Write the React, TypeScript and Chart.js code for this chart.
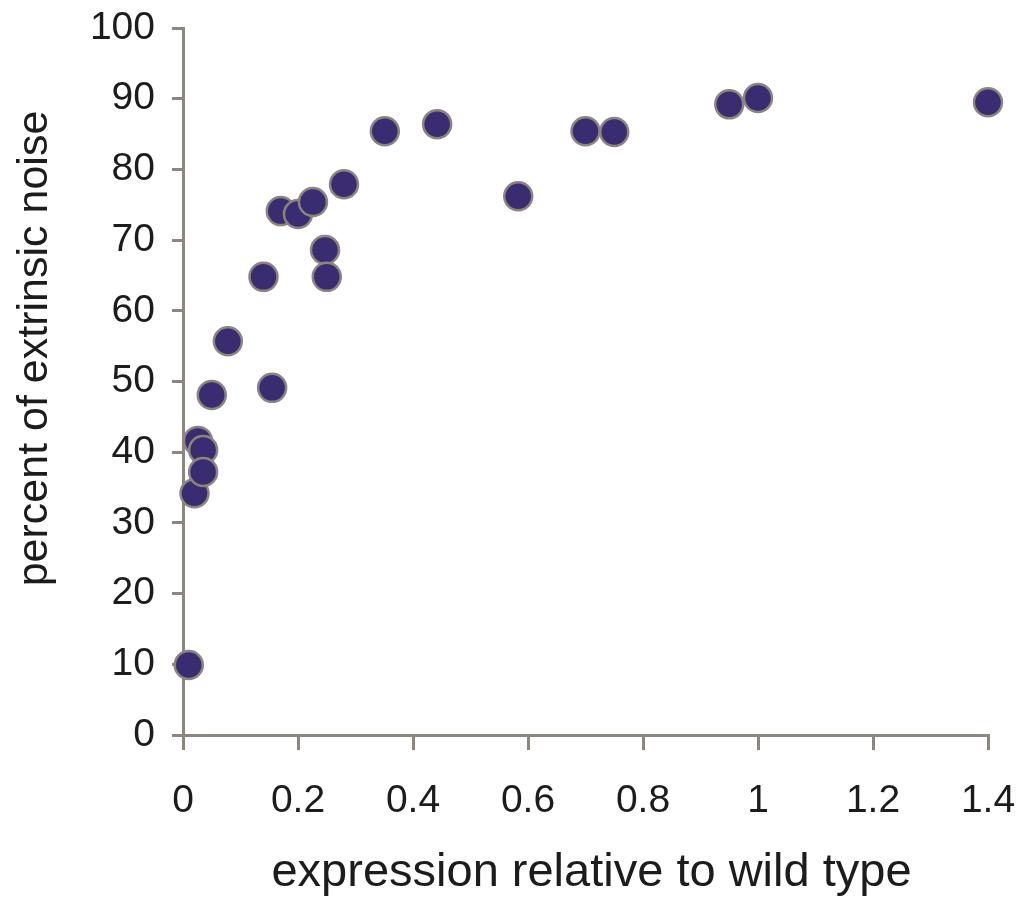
import React, { useEffect, useRef } from "react";
import { Chart, registerables } from "chart.js";

Chart.register(...registerables);

// Data
const expression = [
  0.01, 0.02, 0.026, 0.035, 0.035, 0.05, 0.078, 0.155, 0.14, 0.17, 0.2, 0.226,
  0.247, 0.25, 0.28, 0.351, 0.442, 0.583, 0.7, 0.75, 0.95, 1.0, 1.4,
];
const extrinsicNoise = [
  9.9, 34.2, 41.6, 40.3, 37.2, 48.1, 55.7, 49.1, 64.8, 74.1, 73.7, 75.4,
  68.6, 64.8, 77.9, 85.4, 86.4, 76.2, 85.4, 85.3, 89.2, 90.1, 89.5,
];
const xTicks = [0, 0.2, 0.4, 0.6, 0.8, 1, 1.2, 1.4];
const yTicks = [0, 10, 20, 30, 40, 50, 60, 70, 80, 90, 100];
const xTitle = "expression relative to wild type";
const yTitle = "percent of extrinsic noise";

const FONT = '"Liberation Sans", Arial, Helvetica, sans-serif';
const AXIS = "#8c8681";
const TEXT = "#1c1c1c";

const titlePlugin = {
  id: "axisTitles",
  afterDraw(chart: any) {
    const { ctx, chartArea } = chart;
    ctx.save();
    ctx.fillStyle = TEXT;
    ctx.textAlign = "center";
    ctx.textBaseline = "alphabetic";
    ctx.font = `47px ${FONT}`;
    const cx = (chartArea.left + chartArea.right) / 2 + 6;
    ctx.fillText(xTitle, cx, chartArea.bottom + 151);
    ctx.font = `43px ${FONT}`;
    const cy = (chartArea.top + chartArea.bottom) / 2 - 33;
    ctx.translate(chartArea.left - 136, cy);
    ctx.rotate(-Math.PI / 2);
    ctx.fillText(yTitle, 0, 0);
    ctx.restore();
  },
};

export default function App() {
  const ref = useRef<HTMLCanvasElement>(null);
  useEffect(() => {
    if (!ref.current) return;
    const chart = new Chart(ref.current, {
      type: "scatter",
      data: {
        datasets: [
          {
            data: expression.map((x, i) => ({ x, y: extrinsicNoise[i] })),
            backgroundColor: "#392c70",
            borderColor: "#8c857f",
            borderWidth: 2.5,
            pointRadius: 14,
            pointHoverRadius: 14,
            clip: false as any,
          },
        ],
      },
      options: {
        responsive: false,
        animation: false,
        devicePixelRatio: 1,
        layout: { padding: { top: 28, right: 36, left: 0, bottom: 0 } },
        plugins: { legend: { display: false }, tooltip: { enabled: false } },
        scales: {
          x: {
            type: "linear",
            min: 0,
            max: 1.4,
            afterFit: (s: any) => {
              s.height = 169;
              s.paddingLeft = 0;
              s.paddingRight = 0;
            },
            afterBuildTicks: (s: any) => {
              s.ticks = xTicks.map((v) => ({ value: v }));
            },
            ticks: {
              font: { family: FONT, size: 39, lineHeight: 1 },
              color: TEXT,
              padding: 32,
              maxRotation: 0,
              autoSkip: false,
              callback: (v: any) => String(Math.round(Number(v) * 10) / 10),
            },
            grid: {
              drawOnChartArea: false,
              drawTicks: true,
              tickLength: 15,
              color: AXIS,
              lineWidth: 3,
            },
            border: { display: true, color: AXIS, width: 3 },
          },
          y: {
            type: "linear",
            min: 0,
            max: 100,
            afterFit: (s: any) => {
              s.width = 183;
              s.paddingTop = 0;
              s.paddingBottom = 0;
            },
            afterBuildTicks: (s: any) => {
              s.ticks = yTicks.map((v) => ({ value: v }));
            },
            ticks: {
              font: { family: FONT, size: 39, lineHeight: 1 },
              color: TEXT,
              padding: 17,
              autoSkip: false,
            },
            grid: {
              drawOnChartArea: false,
              drawTicks: true,
              tickLength: 11,
              color: AXIS,
              lineWidth: 3,
            },
            border: { display: true, color: AXIS, width: 3 },
          },
        },
      },
      plugins: [titlePlugin],
    });
    return () => chart.destroy();
  }, []);
  return (
    <div style={{ position: "absolute", left: 0, top: 0, width: 1024, height: 904, background: "#fff" }}>
      <canvas ref={ref} width={1024} height={904} />
    </div>
  );
}
